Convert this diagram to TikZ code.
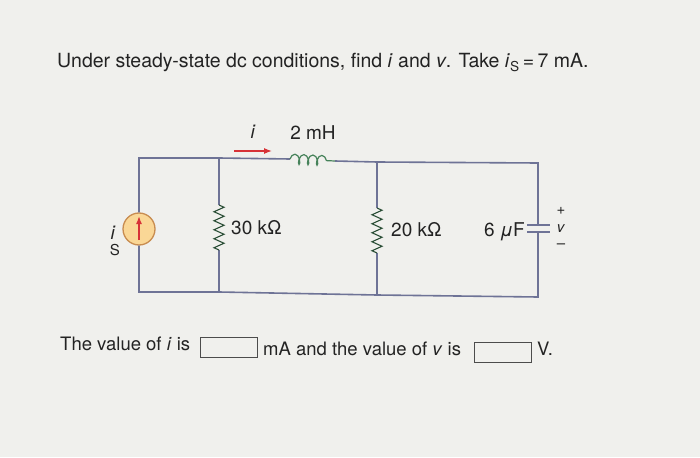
\documentclass[tikz,border=0pt]{standalone}
\usepackage{fontspec}
\setmainfont{TeX Gyre Heros}
\usetikzlibrary{decorations.pathmorphing,arrows.meta}
\definecolor{bg}{RGB}{240,240,237}
\definecolor{wire}{RGB}{110,115,150}
\definecolor{rarrow}{RGB}{215,50,55}
\definecolor{srcfill}{RGB}{250,215,150}
\definecolor{srcedge}{RGB}{200,140,80}
\definecolor{ind}{RGB}{70,130,90}
\definecolor{txt}{RGB}{35,35,35}
\begin{document}
\begin{tikzpicture}[x=1pt,y=-1pt,
  w/.style={draw=wire,line width=1.6pt},
  res/.style={draw=ind!60!black,line width=1.1pt,decorate,decoration={zigzag,segment length=9pt,amplitude=5pt}},
  lbl/.style={text=txt,font=\fontsize{19}{19}\selectfont,inner sep=0pt},
  sm/.style={text=txt,font=\fontsize{15}{15}\selectfont,inner sep=0pt},
  q/.style={text=txt,font=\fontsize{19.5}{19.5}\selectfont,inner sep=0pt,anchor=base west},
  ansbox/.style={draw=black!70,line width=0.8pt,minimum width=57pt,minimum height=20pt,inner sep=0pt}]
\fill[bg] (0,0) rectangle (700,457);
\useasboundingbox (0,0) rectangle (700,457);
\node[q] (title) at (57,68) {Under steady-state dc conditions, find \textit{i} and \textit{v}. Take \textit{i}$_{\mathrm{S}}$\,=\,7 mA.};
\coordinate (tl) at (139,158); \coordinate (bl) at (139,292);
\coordinate (t1) at (219,158); \coordinate (b1) at (219,292);
\coordinate (t2) at (377,162); \coordinate (b2) at (377,295);
\coordinate (tr) at (538,163); \coordinate (br) at (538,297);
\coordinate (lA) at (290,159); \coordinate (lB) at (335,161);
\coordinate (r1a) at (219,205); \coordinate (r1b) at (219,250);
\coordinate (r2a) at (377,208); \coordinate (r2b) at (377,253);
\coordinate (cA) at (538,225); \coordinate (cB) at (538,232);
\node[circle,draw=srcedge,fill=srcfill,line width=1.3pt,minimum size=32pt,inner sep=0pt] (src) at (139,229) {};
\draw[w] (src) -- (tl) -- (t1) -- (lA);
\draw[w] (lB) -- (t2) -- (tr) -- (cA);
\draw[w] (src) -- (bl) -- (b1) -- (b2) -- (br) -- (cB);
\draw[w] (t1) -- (r1a); \draw[w] (r1b) -- (b1);
\draw[w] (t2) -- (r2a); \draw[w] (r2b) -- (b2);
\draw[res] (r1a) -- (r1b);
\draw[res] (r2a) -- (r2b);
\draw[draw=ind,line width=1.2pt,decorate,decoration={coil,segment length=9pt,amplitude=5pt,aspect=0.5}] (lA) -- (lB);
\draw[wire,line width=1.3pt] (527,225) -- (550,225) (527,232) -- (550,232);
\draw[-{Latex[length=8pt]},rarrow,line width=1.5pt] (139,240) -- (139,216);
\draw[-{Latex[length=8pt]},rarrow,line width=1.3pt] (234,151) -- (272,151);
\node[lbl] (il) at (253,132) {\textit{i}};
\node[lbl] (Ll) at (313,133) {2 mH};
\node[lbl,anchor=west] (R1l) at (231,228) {30 kΩ};
\node[lbl,anchor=west] (R2l) at (391,230) {20 kΩ};
\node[lbl,anchor=east] (Cl) at (525,232) {6 \textit{μ}F};
\node[sm] (pl) at (561,211) {+};
\node[sm] (vl) at (561,229) {\textit{v}};
\node[sm] (ml) at (561,246) {–};
\node[lbl] (isi) at (113,233) {\textit{i}};
\node[sm] (iss) at (115,250) {S};
\node[q,font=\fontsize{18.5}{18.5}\selectfont] (a1) at (60,350) {The value of \textit{i} is};
\node[ansbox] (b1x) at (229,347) {};
\node[q,font=\fontsize{18.5}{18.5}\selectfont] (a2) at (263,355) {mA and the value of \textit{v} is};
\node[ansbox] (b2x) at (503,352) {};
\node[q,font=\fontsize{18.5}{18.5}\selectfont] (a3) at (537,355) {V.};
\end{tikzpicture}
\end{document}
